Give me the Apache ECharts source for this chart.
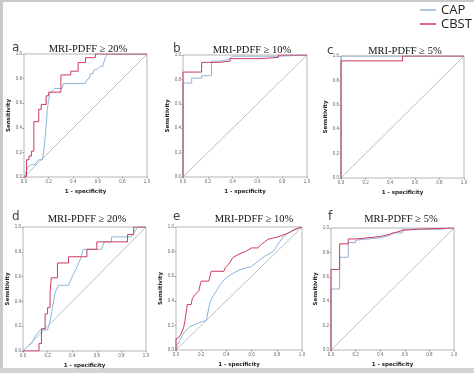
<!DOCTYPE html>
<html><head><meta charset="utf-8">
<script src="https://cdn.jsdelivr.net/npm/echarts@6/dist/echarts.min.js"></script>
<style>html,body{margin:0;padding:0;background:#fff}#c{width:474px;height:373px}</style>
</head><body><div id="c"></div>
<script>
const panelLetters = ['a','b','c','d','e','f'];
const panelTitles = ['MRI-PDFF ≥ 20%','MRI-PDFF ≥ 10%','MRI-PDFF ≥ 5%','MRI-PDFF ≥ 20%','MRI-PDFF ≥ 10%','MRI-PDFF ≥ 5%'];
const seriesNames = ['CAP','CBST'];
const axisTicks = [0,0.2,0.4,0.6,0.8,1.0];
const diagonal = [[0,0],[1,1]];

const capA = [[0,0],[0.02,0.05],[0.03,0.08],[0.06,0.1],[0.09,0.1],[0.1,0.12],[0.12,0.14],[0.15,0.14],[0.16,0.2],[0.17,0.3],[0.18,0.42],[0.19,0.55],[0.2,0.63],[0.21,0.67],[0.23,0.7],[0.25,0.72],[0.31,0.72],[0.32,0.76],[0.5,0.76],[0.51,0.79],[0.53,0.8],[0.54,0.84],[0.56,0.84],[0.57,0.87],[0.6,0.88],[0.62,0.9],[0.64,0.9],[0.66,0.97],[0.68,1],[1,1]];
const cbstA = [[0,0],[0.02,0],[0.02,0.14],[0.04,0.14],[0.04,0.17],[0.06,0.17],[0.06,0.21],[0.08,0.21],[0.08,0.45],[0.12,0.45],[0.12,0.55],[0.14,0.55],[0.14,0.59],[0.18,0.59],[0.18,0.66],[0.2,0.66],[0.2,0.69],[0.3,0.69],[0.3,0.83],[0.38,0.83],[0.38,0.86],[0.44,0.86],[0.44,0.93],[0.5,0.93],[0.5,0.97],[0.58,0.97],[0.58,1],[1,1]];

const capB = [[0,0],[0,0.77],[0.07,0.77],[0.07,0.81],[0.15,0.81],[0.15,0.83],[0.23,0.83],[0.23,0.95],[0.3,0.95],[0.3,0.96],[0.36,0.96],[0.4,0.99],[0.77,0.99],[0.77,1],[1,1]];
const cbstB = [[0,0],[0,0.86],[0.15,0.86],[0.15,0.94],[0.3,0.94],[0.3,0.95],[0.38,0.95],[0.38,0.97],[0.62,0.97],[0.62,0.98],[0.77,0.98],[0.77,1],[1,1]];

const capC = [[0,0],[0,1],[1,1]];
const cbstC = [[0,0],[0,0.96],[0.5,0.96],[0.5,1],[1,1]];

const capD = [[0,0],[0.04,0.04],[0.07,0.06],[0.1,0.12],[0.14,0.17],[0.2,0.17],[0.22,0.24],[0.24,0.35],[0.26,0.47],[0.29,0.53],[0.37,0.53],[0.4,0.6],[0.44,0.68],[0.47,0.75],[0.49,0.82],[0.64,0.82],[0.66,0.88],[0.72,0.88],[0.72,0.92],[0.88,0.92],[0.9,0.95],[0.93,1],[1,1]];
const cbstD = [[0,0],[0.13,0],[0.13,0.06],[0.15,0.06],[0.15,0.18],[0.18,0.18],[0.18,0.3],[0.2,0.3],[0.2,0.35],[0.22,0.35],[0.22,0.47],[0.23,0.47],[0.23,0.59],[0.28,0.59],[0.28,0.71],[0.37,0.71],[0.37,0.76],[0.52,0.76],[0.52,0.82],[0.6,0.82],[0.6,0.88],[0.85,0.88],[0.85,0.94],[0.9,0.94],[0.9,1],[1,1]];

const capE = [[0,0],[0.01,0.04],[0.03,0.08],[0.05,0.12],[0.07,0.15],[0.11,0.19],[0.18,0.22],[0.24,0.24],[0.26,0.34],[0.27,0.39],[0.3,0.45],[0.32,0.48],[0.35,0.53],[0.39,0.58],[0.43,0.61],[0.5,0.65],[0.6,0.68],[0.65,0.72],[0.7,0.76],[0.77,0.8],[0.81,0.86],[0.85,0.92],[0.89,0.95],[0.97,0.99],[1,1]];
const cbstE = [[0,0],[0,0.09],[0.02,0.1],[0.04,0.13],[0.06,0.18],[0.07,0.23],[0.08,0.3],[0.09,0.37],[0.12,0.37],[0.13,0.42],[0.15,0.45],[0.18,0.48],[0.2,0.56],[0.26,0.56],[0.28,0.64],[0.38,0.64],[0.39,0.67],[0.42,0.7],[0.45,0.75],[0.5,0.78],[0.55,0.8],[0.6,0.83],[0.65,0.83],[0.68,0.86],[0.73,0.9],[0.81,0.92],[0.89,0.95],[0.94,0.98],[1,1]];

const capF = [[0,0],[0,0.5],[0.07,0.5],[0.07,0.76],[0.14,0.76],[0.14,0.88],[0.2,0.88],[0.2,0.9],[0.3,0.91],[0.4,0.92],[0.48,0.94],[0.5,0.96],[0.58,0.96],[0.58,0.99],[0.9,0.99],[0.96,1],[1,1]];
const cbstF = [[0,0],[0,0.66],[0.07,0.66],[0.07,0.87],[0.14,0.87],[0.14,0.91],[0.2,0.91],[0.3,0.92],[0.4,0.93],[0.48,0.95],[0.58,0.98],[0.7,0.99],[0.98,1],[1,1]];

const capData = [capA, capB, capC, capD, capE, capF];
const cbstData = [cbstA, cbstB, cbstC, cbstD, cbstE, cbstF];

const grids = [
  {left:24, top:54, width:123, height:123},
  {left:183, top:55, width:124, height:122},
  {left:341, top:56, width:123, height:122},
  {left:23, top:227, width:123, height:124},
  {left:176, top:227, width:126, height:123},
  {left:331, top:228, width:123, height:122}
];
const titlePos = [[83,44],[247,45],[400,46],[82,214],[249,214],[396,214]];
const letterPos = [[7,43],[168,44],[322,46],[7,212],[168,212],[323,212]];

const CAP_COLOR = '#8db5da';
const CBST_COLOR = '#cc3a62';

const axisLab = {fontSize:4.5, color:'#666', margin:2, formatter: v => axisTicks.includes(v) ? v.toFixed(1) : ''};
const xAxes = [], yAxes = [], series = [], titles = [];
grids.forEach((g, i) => {
  xAxes.push({type:'value', gridIndex:i, min:0, max:1, interval:0.2,
    axisLine:{show:false}, axisTick:{show:true, length:1.5, lineStyle:{color:'#999'}}, splitLine:{show:false},
    axisLabel:axisLab,
    name:'1 - specificity', nameLocation:'middle', nameGap:12,
    nameTextStyle:{fontSize:5.5, fontWeight:'bold', color:'#222', fontFamily:'DejaVu Sans'}});
  yAxes.push({type:'value', gridIndex:i, min:0, max:1, interval:0.2,
    axisLine:{show:false}, axisTick:{show:true, length:1.5, lineStyle:{color:'#999'}}, splitLine:{show:false},
    axisLabel:axisLab,
    name:'Sensitivity', nameLocation:'middle', nameGap:11,
    nameTextStyle:{fontSize:5.5, fontWeight:'bold', color:'#222', fontFamily:'DejaVu Sans'}});
  series.push({type:'line', name:'ref', xAxisIndex:i, yAxisIndex:i, data:diagonal, symbol:'none',
    lineStyle:{color:'#a9aeae', width:0.8}, silent:true, z:1});
  series.push({type:'line', name:seriesNames[0], xAxisIndex:i, yAxisIndex:i, data:capData[i], symbol:'none',
    lineStyle:{color:CAP_COLOR, width:1}, itemStyle:{color:CAP_COLOR}, z:2});
  series.push({type:'line', name:seriesNames[1], xAxisIndex:i, yAxisIndex:i, data:cbstData[i], symbol:'none',
    lineStyle:{color:CBST_COLOR, width:1}, itemStyle:{color:CBST_COLOR}, z:3});
  titles.push({text:panelTitles[i], left:titlePos[i][0], top:titlePos[i][1], textAlign:'center', textVerticalAlign:'middle',
    textStyle:{fontSize:10.5, fontWeight:'normal', color:'#111', fontFamily:'Liberation Serif'}});
  titles.push({text:panelLetters[i], left:letterPos[i][0], top:letterPos[i][1], textVerticalAlign:'middle',
    textStyle:{fontSize:12, fontWeight:'normal', color:'#444', fontFamily:'DejaVu Sans'}});
});

const chart = echarts.init(document.getElementById('c'), null, {renderer:'canvas'});
chart.setOption({
  animation:false,
  backgroundColor:'#fff',
  title: titles,
  grid: grids.map(g => Object.assign({show:true, borderColor:'#b5b5b5', borderWidth:1, backgroundColor:'transparent', containLabel:false}, g)),
  xAxis: xAxes, yAxis: yAxes, series: series,
  legend: {data:seriesNames, orient:'vertical', left:420, top:3, padding:0, itemGap:0,
    itemWidth:16, itemHeight:1.5, icon:'rect',
    textStyle:{fontSize:13, color:'#222', fontFamily:'Open Sans', lineHeight:14}},
  graphic: [
    {type:'rect', shape:{x:0,y:0,width:474,height:2}, style:{fill:'#c9c9c9'}, silent:true},
    {type:'rect', shape:{x:0,y:0,width:3,height:373}, style:{fill:'#c9c9c9'}, silent:true},
    {type:'rect', shape:{x:0,y:368,width:474,height:5}, style:{fill:'#d3d3d3'}, silent:true}
  ]
});
</script></body></html>
